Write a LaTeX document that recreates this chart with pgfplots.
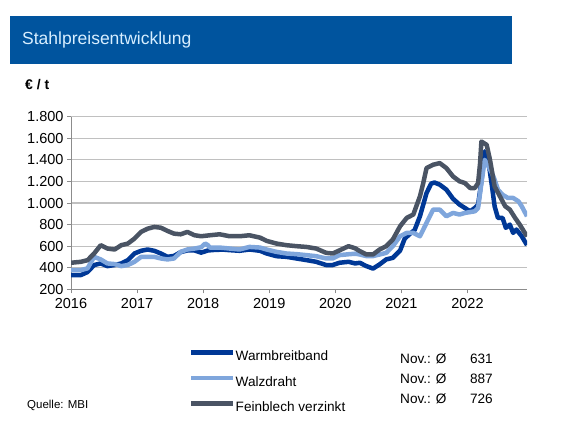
\documentclass[border=0pt]{standalone}
\usepackage{pgfplots}
\pgfplotsset{compat=1.18}
\usepackage{fontspec}
\setmainfont{Liberation Sans}
\definecolor{banner}{RGB}{0,84,158}
\definecolor{titletext}{RGB}{215,238,255}
\definecolor{wb}{RGB}{0,56,150}
\definecolor{wd}{RGB}{127,166,220}
\definecolor{fv}{RGB}{74,84,100}
\definecolor{gridc}{RGB}{192,192,192}
\definecolor{axisc}{RGB}{140,140,140}

\pgfplotstableread{
x y
2016.00 332
2016.15 332
2016.25 360
2016.35 425
2016.45 440
2016.55 415
2016.66 425
2016.76 440
2016.86 470
2016.96 532
2017.06 557
2017.16 569
2017.26 557
2017.36 532
2017.46 501
2017.56 510
2017.66 545
2017.76 560
2017.87 560
2017.97 540
2018.07 560
2018.17 565
2018.30 568
2018.40 563
2018.55 557
2018.70 569
2018.86 557
2018.96 532
2019.11 507
2019.26 501
2019.41 486
2019.56 471
2019.71 455
2019.86 425
2019.96 425
2020.06 446
2020.20 455
2020.30 440
2020.37 446
2020.47 415
2020.57 392
2020.67 431
2020.77 477
2020.87 492
2020.98 560
2021.05 670
2021.13 715
2021.20 750
2021.28 877
2021.38 1093
2021.45 1180
2021.50 1190
2021.58 1170
2021.68 1124
2021.78 1040
2021.88 985
2021.96 954
2022.04 923
2022.11 954
2022.16 985
2022.21 1200
2022.26 1478
2022.32 1370
2022.37 1154
2022.41 970
2022.46 862
2022.53 862
2022.58 770
2022.64 800
2022.69 723
2022.74 754
2022.82 692
2022.90 610
}\warmbreitband

\pgfplotstableread{
x y
2016.00 378
2016.15 378
2016.25 394
2016.35 501
2016.45 477
2016.55 440
2016.66 434
2016.76 415
2016.86 425
2016.96 455
2017.06 500
2017.16 501
2017.26 501
2017.36 486
2017.46 477
2017.56 486
2017.66 547
2017.76 569
2017.87 578
2017.97 590
2018.03 624
2018.07 610
2018.10 587
2018.25 587
2018.40 578
2018.55 569
2018.70 593
2018.86 587
2018.96 569
2019.11 547
2019.26 532
2019.41 526
2019.56 517
2019.71 507
2019.86 486
2019.96 486
2020.06 517
2020.20 525
2020.30 530
2020.37 523
2020.47 508
2020.57 508
2020.67 523
2020.77 538
2020.87 600
2020.98 692
2021.08 723
2021.18 723
2021.28 692
2021.38 816
2021.48 939
2021.58 939
2021.68 877
2021.73 893
2021.78 908
2021.88 893
2021.96 908
2022.11 923
2022.16 954
2022.21 1185
2022.26 1400
2022.29 1370
2022.37 1277
2022.41 1216
2022.46 1124
2022.53 1077
2022.61 1047
2022.69 1047
2022.77 1016
2022.82 970
2022.90 877
}\walzdraht

\pgfplotstableread{
x y
2016.00 446
2016.15 455
2016.25 470
2016.35 532
2016.45 609
2016.55 578
2016.66 569
2016.76 609
2016.86 624
2016.96 670
2017.06 732
2017.16 762
2017.26 778
2017.36 771
2017.46 741
2017.56 716
2017.66 710
2017.76 732
2017.87 701
2017.97 692
2018.10 701
2018.25 710
2018.40 692
2018.55 692
2018.70 701
2018.86 679
2018.96 649
2019.11 624
2019.26 609
2019.41 600
2019.56 593
2019.71 578
2019.86 538
2019.96 532
2020.06 560
2020.20 600
2020.30 580
2020.37 554
2020.47 523
2020.57 523
2020.67 569
2020.77 600
2020.87 662
2020.98 785
2021.08 862
2021.18 893
2021.28 1062
2021.33 1185
2021.38 1324
2021.48 1355
2021.58 1370
2021.68 1324
2021.78 1247
2021.88 1201
2021.96 1185
2022.04 1139
2022.11 1139
2022.16 1185
2022.19 1370
2022.21 1570
2022.29 1539
2022.34 1400
2022.41 1154
2022.49 1062
2022.57 970
2022.64 939
2022.72 862
2022.79 800
2022.85 740
2022.90 690
}\feinblech

\begin{document}
\begin{tikzpicture}[x=1pt,y=1pt]
\path[use as bounding box] (0,0) rectangle (569,-429);
\fill[banner] (10,-16) rectangle (512,-64);
\node[anchor=west, text=titletext, font=\fontsize{17.5}{20}\selectfont, inner sep=0pt] at (22,-40) {Stahlpreisentwicklung};
\node[anchor=west, font=\fontsize{14}{16}\selectfont\bfseries, inner sep=0pt] at (25,-85) {€ / t};

\begin{axis}[
  at={(71pt,-289.3pt)}, anchor=south west,
  scale only axis, width=456pt, height=172.6pt,
  xmin=2016, xmax=2022.9, ymin=200, ymax=1800,
  axis x line*=bottom, axis y line*=left,
  axis line style={axisc, line width=0.8pt},
  xtick={2016,2017,...,2022},
  ytick={200,400,...,1800},
  ymajorgrids, grid style={gridc, line width=1.2pt},
  tick align=outside, major tick length=4pt,
  tick style={axisc, line width=0.8pt},
  ticklabel style={font=\fontsize{14.5}{16}\selectfont},
  /pgf/number format/assume math mode=true,
  yticklabel style={/pgf/number format/1000 sep={.}},
  xticklabel style={/pgf/number format/1000 sep={}, yshift=-2pt},
  legend style={at={(axis description cs:0.2588,-0.3505)}, anchor=north west,
    draw=none, fill=none, inner sep=0pt, row sep=12pt, column sep=0pt,
    font=\fontsize{13.6}{16}\selectfont,
    nodes={inner sep=0pt, text height=10pt, text depth=3pt}},
  legend cell align=left,
  legend image code/.code={\draw[#1, line width=4.5pt] (0pt,4.8pt) -- (42pt,4.8pt);},
]
\addplot[wb, line width=4.5pt, line join=round] table {\warmbreitband};
\addlegendentry{Warmbreitband}
\addplot[wd, line width=4.5pt, line join=round] table {\walzdraht};
\addlegendentry{Walzdraht}
\addplot[fv, line width=4.5pt, line join=round] table {\feinblech};
\addlegendentry{Feinblech verzinkt}
\end{axis}

\begin{scope}[every node/.style={font=\fontsize{13.6}{16}\selectfont, inner sep=0pt}]
\node[anchor=west] at (400,-359) {Nov.: Ø};
\node[anchor=west] at (400,-379) {Nov.: Ø};
\node[anchor=west] at (400,-399) {Nov.: Ø};
\node[anchor=east] at (493,-359) {631};
\node[anchor=east] at (493,-379) {887};
\node[anchor=east] at (493,-399) {726};
\end{scope}
\node[anchor=west, font=\fontsize{11.5}{14}\selectfont, inner sep=0pt] at (27,-405) {Quelle: MBI};
\end{tikzpicture}
\end{document}
